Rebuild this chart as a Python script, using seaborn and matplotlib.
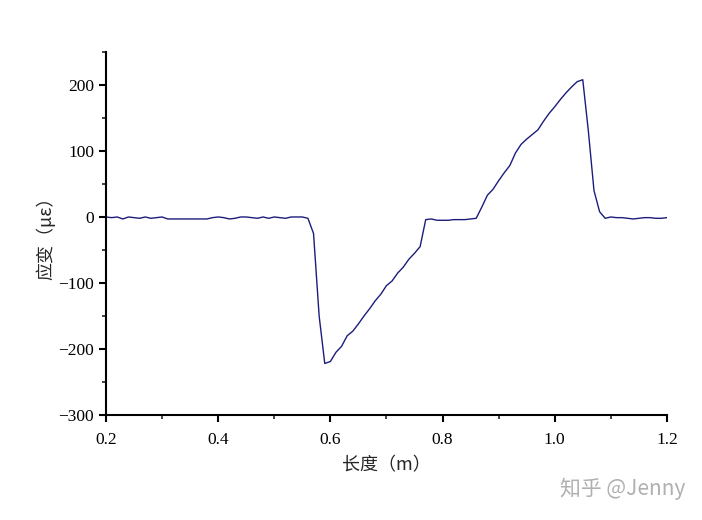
import numpy as np
import pandas as pd
import matplotlib
matplotlib.use("Agg")
import matplotlib.pyplot as plt
import seaborn as sns
from matplotlib.ticker import MultipleLocator

# data (length in m, strain in micro-strain)
length = [0.20, 0.21, 0.22, 0.23, 0.24, 0.25, 0.26, 0.27, 0.28, 0.29,
          0.30, 0.31, 0.32, 0.33, 0.34, 0.35, 0.36, 0.37, 0.38, 0.39,
          0.40, 0.41, 0.42, 0.43, 0.44, 0.45, 0.46, 0.47, 0.48, 0.49,
          0.50, 0.51, 0.52, 0.53, 0.54, 0.55, 0.56, 0.57, 0.58, 0.59,
          0.60, 0.61, 0.62, 0.63, 0.64, 0.65, 0.66, 0.67, 0.68, 0.69,
          0.70, 0.71, 0.72, 0.73, 0.74, 0.75, 0.76, 0.77, 0.78, 0.79,
          0.80, 0.81, 0.82, 0.83, 0.84, 0.85, 0.86, 0.87, 0.88, 0.89,
          0.90, 0.91, 0.92, 0.93, 0.94, 0.95, 0.96, 0.97, 0.98, 0.99,
          1.00, 1.01, 1.02, 1.03, 1.04, 1.05, 1.06, 1.07, 1.08, 1.09,
          1.10, 1.11, 1.12, 1.13, 1.14, 1.15, 1.16, 1.17, 1.18, 1.19,
          1.20]
strain = [0, -1, 0, -3, 0, -1, -2, 0, -2, -1,
          0, -3, -3, -3, -3, -3, -3, -3, -3, -1,
          0, -1, -3, -2, 0, 0, -1, -2, 0, -2,
          0, -1, -2, 0, 0, 0, -2, -25, -150, -222,
          -219, -205, -196, -180, -173, -162, -150, -139, -127, -117,
          -104, -97, -85, -76, -64, -55, -45, -4, -3, -5,
          -5, -5, -4, -4, -4, -3, -2, 15, 33, 42,
          55, 67, 78, 97, 110, 118, 125, 132, 145, 157,
          167, 178, 188, 197, 205, 208, 130, 40, 8, -2,
          0, -1, -1, -2, -3, -2, -1, -1, -2, -2,
          -1]

df = pd.DataFrame({"length": length, "strain": strain})

sns.set_style("ticks")
plt.rcParams["font.family"] = ["Liberation Serif", "Noto Sans CJK SC", "DejaVu Sans"]

fig = plt.figure(figsize=(7.02, 5.2), dpi=100)
ax = fig.add_axes([0.151, 0.202, 0.799, 0.698])

sns.lineplot(data=df, x="length", y="strain", ax=ax, color="#1c1c7c", linewidth=1.0)

ax.set_xlim(0.2, 1.2)
ax.set_ylim(-300, 250)
ax.xaxis.set_major_locator(MultipleLocator(0.2))
ax.xaxis.set_minor_locator(MultipleLocator(0.1))
ax.yaxis.set_major_locator(MultipleLocator(100))
ax.yaxis.set_minor_locator(MultipleLocator(50))
ax.set_yticks([-300, -200, -100, 0, 100, 200])
ax.set_xticklabels([f"{v:.1f}" for v in ax.get_xticks()])
ax.set_yticklabels([str(int(v)).replace("-", "\u2212") for v in ax.get_yticks()])

for side in ["top", "right"]:
    ax.spines[side].set_visible(False)
for side in ["left", "bottom"]:
    ax.spines[side].set_linewidth(1.5)
    ax.spines[side].set_color("black")
ax.tick_params(which="major", direction="out", length=5, width=1.5, labelsize=12.5, colors="black")
ax.tick_params(axis="x", which="major", pad=7)
ax.tick_params(which="minor", direction="out", length=3, width=1.2)

ax.set_xlabel("长度（m）", fontsize=13, labelpad=6, family=["Noto Sans CJK SC", "DejaVu Sans"])
ax.set_ylabel("应变（με）", fontsize=13, labelpad=2, family=["Noto Sans CJK SC", "DejaVu Sans"])

fig.text(0.977, 0.06, "知乎 @Jenny", ha="right", va="center", fontsize=15,
         color="#b0b0b0", family=["Noto Sans CJK SC", "DejaVu Sans"])

fig.savefig("out.png", dpi=100)
